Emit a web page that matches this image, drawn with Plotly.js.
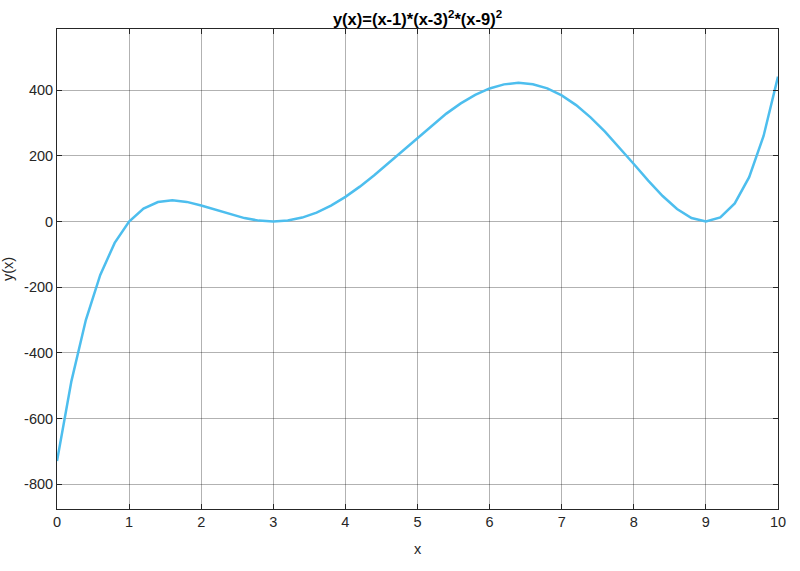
<!DOCTYPE html>
<html>
<head>
<meta charset="utf-8">
<script src="https://cdn.plot.ly/plotly-3.0.1.min.js"></script>
<style>html,body{margin:0;padding:0;background:#fff;}#chart{width:800px;height:571px;}</style>
</head>
<body>
<div id="chart"></div>
<script>
const xValues = [0,0.2,0.4,0.6,0.8,1,1.2,1.4,1.6,1.8,2,2.2,2.4,2.6,2.8,3,3.2,3.4,3.6,3.8,4,4.2,4.4,4.6,4.8,5,5.2,5.4,5.6,5.8,6,6.2,6.4,6.6,6.8,7,7.2,7.4,7.6,7.8,8,8.2,8.4,8.6,8.8,9,9.2,9.4,9.6,9.8,10];
const yValues = [-729,-485.70,-299.98,-162.57,-65.09,0,39.42,59.15,64.40,59.72,49,35.51,21.95,10.49,2.77,0,2.96,12.04,27.29,48.46,75,106.17,141.01,178.42,217.18,256,293.54,328.46,359.47,385.35,405,417.46,421.99,418.04,405.36,384,354.35,317.19,273.73,225.61,175,124.60,77.68,38.13,10.50,0,12.61,55.05,134.86,260.42,441];
const xTicks = [0,1,2,3,4,5,6,7,8,9,10];
const yTicks = [-800,-600,-400,-200,0,200,400];

const font = {family: 'Liberation Sans, Arial, sans-serif', size: 14.5, color: '#262626'};
const axisCommon = {
  showline: true, linecolor: '#262626', linewidth: 1, mirror: 'ticks',
  ticks: 'inside', ticklen: 5, tickcolor: '#262626', tickwidth: 1,
  showgrid: true, gridcolor: 'rgba(0,0,0,0.30)', gridwidth: 1,
  zeroline: false, tickfont: font
};

Plotly.newPlot('chart', [{
  x: xValues, y: yValues, type: 'scatter', mode: 'lines',
  line: {color: '#4DBEEE', width: 2.5}
}], {
  width: 800, height: 571,
  margin: {l: 57, r: 22, t: 29, b: 62},
  paper_bgcolor: '#fff', plot_bgcolor: '#fff',
  showlegend: false,
  title: {text: '<b>y(x)=(x-1)*(x-3)<sup>2</sup>*(x-9)<sup>2</sup></b>', font: {family: 'Liberation Sans, Arial, sans-serif', size: 16.5, color: '#000'}, x: 0.5219, xanchor: 'center', y: 0.957, yanchor: 'bottom'},
  xaxis: Object.assign({}, axisCommon, {range: [0, 10], tickvals: xTicks, ticktext: xTicks.map(String), title: {text: 'x', font: font, standoff: 14}}),
  yaxis: Object.assign({}, axisCommon, {range: [-875, 586], tickvals: yTicks, ticktext: yTicks.map(String), title: {text: 'y(x)', font: font, standoff: 9}})
}, {staticPlot: true});
</script>
</body>
</html>
